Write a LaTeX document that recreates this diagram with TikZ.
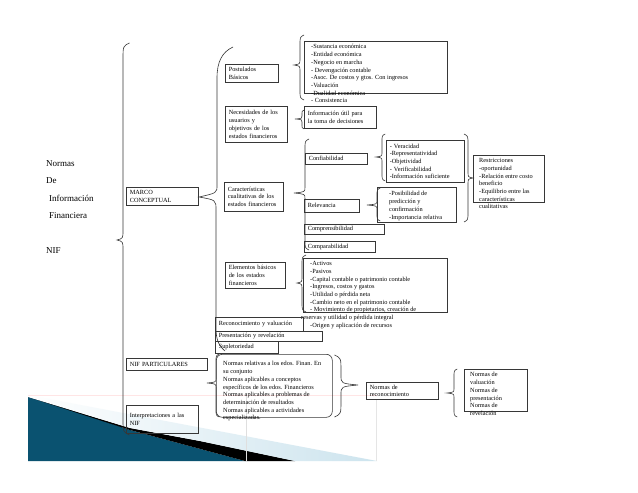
\documentclass[tikz,border=0pt]{standalone}
\usepackage{fontspec}
\setmainfont{Liberation Serif}
\definecolor{linegray}{RGB}{55,55,55}
\definecolor{swdark}{RGB}{10,82,112}
\definecolor{swblue}{RGB}{70,165,205}
\definecolor{swpale}{RGB}{205,228,238}
% left and right braces: arm x, top y, tip x, tip y, bottom y, hook length
\newcommand\lbr[6]{\draw[brc] (#1+#6*0.4,#2) .. controls (#1,#2+#6*0.2) .. (#1,#2+#6) -- (#1,#4-#6*0.6) .. controls (#1,#4-#6*0.1) .. (#3,#4) .. controls (#1,#4+#6*0.1) .. (#1,#4+#6*0.6) -- (#1,#5-#6) .. controls (#1,#5-#6*0.2) .. (#1+#6*0.4,#5);}
\newcommand\rbr[6]{\draw[brc] (#1-#6*0.4,#2) .. controls (#1,#2+#6*0.2) .. (#1,#2+#6) -- (#1,#4-#6*0.6) .. controls (#1,#4-#6*0.1) .. (#3,#4) .. controls (#1,#4+#6*0.1) .. (#1,#4+#6*0.6) -- (#1,#5-#6) .. controls (#1,#5-#6*0.2) .. (#1-#6*0.4,#5);}

\begin{document}
\begin{tikzpicture}[x=1pt,y=-1pt,
  box/.style={draw=linegray,line width=0.6pt,anchor=north west,inner xsep=3.5pt,inner ysep=0pt,align=left,font=\fontsize{6.3}{7.7}\selectfont},
  frame/.style={draw=linegray,line width=0.6pt,anchor=north west,inner sep=0pt},
  txt/.style={anchor=north west,inner sep=0pt,align=left,font=\fontsize{6.3}{7.7}\selectfont,execute at begin node=\strut},
  title/.style={anchor=west,inner sep=0pt,font=\fontsize{9}{11}\selectfont},
  brc/.style={draw=linegray,line width=0.6pt}
]
\fill[white] (0,0) rectangle (638,493);
\useasboundingbox (0,0) rectangle (638,493);

% slide decoration
\shade[left color=swdark,middle color=swblue,right color=swdark] (28,395) -- (130,430) -- (245,461) -- (28,461) -- cycle;
\fill[black] (28,397) -- (130,428) -- (200,441) -- (295,461) -- (245,461) -- (130,430) -- cycle;
\shade[left color=white,right color=swpale] (28,395) -- (377,461) -- (295,461) -- (200,441) -- (130,428) -- (28,397) -- cycle;
\draw[red!10] (28,395) -- (377,395);
\draw[gray!25] (246,395) -- (246,461);
\draw[gray!20] (376,400) -- (376,461);

\node[title] (normas) at (46,164) {Normas};
\node[title] (de) at (46,181) {De};
\node[title] (inform) at (49,198) {Información};
\node[title] (financ) at (49,216) {Financiera};
\node[title] (nif) at (46,251) {NIF};

\node[box,text width=65pt,minimum height=18pt] (marco) at (126,187) {MARCO\\CONCEPTUAL};
\node[box,text width=74pt,minimum height=12pt] (nifp) at (126,358) {NIF PARTICULARES};
\node[box,text width=65pt,minimum height=28pt] (interp) at (126,405) {Interpretaciones a las\\NIF};

\node[box,text width=46pt,minimum height=18pt] (post) at (225,64) {Postulados\\Básicos};
\node[frame,minimum width=143pt,minimum height=52pt] (postbox) at (304,41) {};
\node[txt] (postlist) at (311,44.4) {-Sustancia económica\\-Entidad económica\\-Negocio en marcha\\- Devengación contable\\-Asoc. De costos y gtos. Con ingresos\\-Valuación\\-Dualidad económica\\- Consistencia};

\node[box,text width=55pt,minimum height=36pt] (nec) at (225,106) {Necesidades de los\\usuarios y\\objetivos de los\\estados financieros};
\node[box,text width=65pt,minimum height=22pt] (info) at (304,106) {Información útil para\\la toma de decisiones};

\node[box,text width=52pt,minimum height=29pt] (car) at (224,182) {Características\\cualitativas de los\\estados financieros};
\node[box,text width=55pt,minimum height=11pt] (conf) at (305,153) {Confiabilidad};
\node[box,text width=71pt,minimum height=42pt] (ver) at (386,140) {- Veracidad\\-Representatividad\\-Objetividad\\- Verificabilidad\\-Información suficiente};
\node[box,text width=48pt,minimum height=13pt] (rel) at (304,199) {Relevancia};
\node[frame,minimum width=79pt,minimum height=35pt] (posbox) at (377,187) {};
\node[txt] (poslist) at (389,191.4) {-Posibilidad de\\predicción y\\confirmación\\-Importancia relativa};
\node[frame,minimum width=71pt,minimum height=47pt] (resbox) at (473,155) {};
\node[txt] (reslist) at (479,158.4) {Restricciones\\-oportunidad\\-Relación entre costo\\beneficio\\-Equilibrio entre las\\características\\cualitativas};
\node[box,text width=73pt,minimum height=10pt] (compr) at (304,224) {Comprensibilidad};
\node[box,text width=64pt,minimum height=11pt] (compa) at (304,241) {Comparabilidad};

\node[box,text width=53pt,minimum height=26pt] (elem) at (225,262) {Elementos básicos\\de los estados\\financieros};
\node[frame,minimum width=144pt,minimum height=54pt] (elembox) at (303,258) {};
\node[txt] (elemlist) at (310,261.4) {-Activos\\-Pasivos\\-Capital contable o patrimonio contable\\-Ingresos, costos y gastos\\-Utilidad o pérdida neta\\-Cambio neto en el patrimonio contable\\- Movimiento de propietarios, creación de\\\hspace*{-9pt}reservas y utilidad o pérdida integral\\-Origen y aplicación de recursos};

\node[box,text width=81pt,minimum height=14pt] (reco) at (215,317) {Reconocimiento y valuación};
\node[box,text width=100pt,minimum height=10pt] (pres) at (215,331) {Presentación y revelación};
\node[box,text width=56pt,minimum height=12pt] (supl) at (215,341) {Supletoriedad};

\node[frame,minimum width=116pt,minimum height=63pt,rounded corners=6pt] (relbox) at (216,354) {};
\node[txt] (rellist) at (223,361.4) {Normas relativas a los edos. Finan. En\\su conjunto\\Normas aplicables a conceptos\\específicos de los edos. Financieros\\Normas aplicables a problemas de\\determinación de resultados\\Normas aplicables a actividades\\especializadas.};
\node[box,text width=65pt,minimum height=17pt] (nreco) at (366,382) {Normas de\\reconocimiento};
\node[frame,minimum width=63pt,minimum height=42pt] (valbox) at (464,369) {};
\node[txt] (vallist) at (470,372.4) {Normas de\\valuación\\Normas de\\presentación\\Normas de\\revelación};

% braces
\lbr{123}{43}{117}{240}{435}{16}
\draw[brc] (233,47) .. controls (222,52) and (217,62) .. (217,78) -- (217,185) .. controls (217,193) .. (199,197) .. controls (216,200) .. (216,210) -- (216,328) .. controls (216,340) and (219,346) .. (225,351);
\lbr{300}{35}{294}{65}{100}{10}
\lbr{302}{110}{295}{119}{129}{5}
\lbr{305}{139}{294}{193}{250}{10}
\lbr{382}{134}{376}{157}{181}{8}
\lbr{377}{188}{367}{205}{221}{8}
\rbr{468}{134}{473}{178}{222}{10}
\lbr{302}{255}{297}{283}{312}{10}
\lbr{216}{354}{207}{383}{417}{8}
\rbr{341}{355}{358}{385}{417}{16}
\lbr{454}{369}{447}{393}{417}{8}
\end{tikzpicture}
\end{document}
